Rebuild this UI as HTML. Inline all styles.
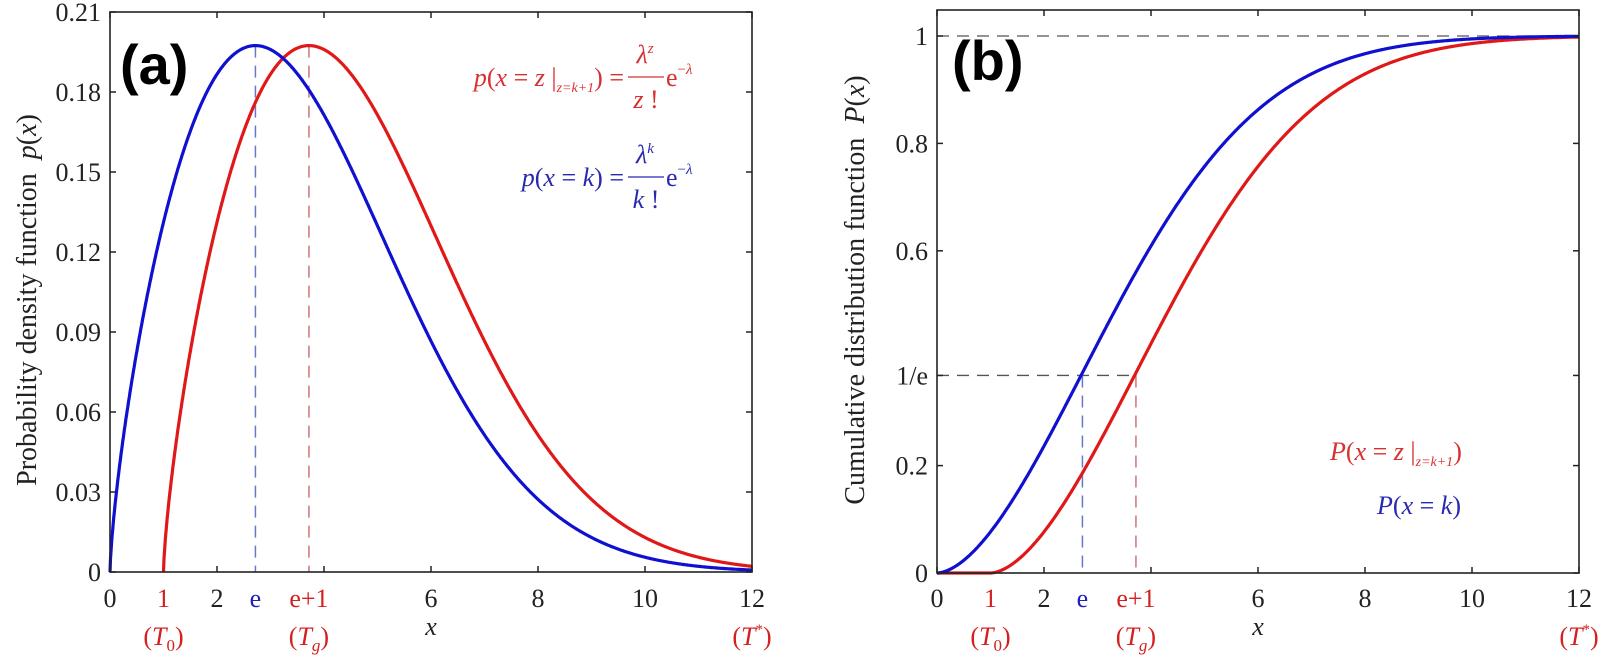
<!DOCTYPE html>
<html><head><meta charset="utf-8"><style>
html,body{margin:0;padding:0;background:#fff;}
svg{display:block;}
</style></head><body>
<svg id="s" width="1600" height="661" viewBox="0 0 1600 661">
</svg>
<script>
var NS="http://www.w3.org/2000/svg",s=document.getElementById('s');
var FF="'Liberation Serif', 'DejaVu Serif', serif";
function el(t,a,h){var e=document.createElementNS(NS,t);for(var k in a)e.setAttribute(k,a[k]);if(t=='text'&&!a['font-family'])e.setAttribute('font-family',FF);if(h!=null)e.innerHTML=h;s.appendChild(e);return e;}
function tx(x,y,str,col,anch,extra){var o={x:x,y:y,'font-size':26,fill:col||'#222','text-anchor':anch||'middle'};for(var k in extra)o[k]=extra[k];return el('text',o,str);}
var E=Math.E,A=0.72;
function f(x){if(x<=0)return 0;var t=x/E;return 0.1974*Math.exp(A*(Math.log(t)-(t*t-1)/2));}
function panel(L,T,B,ymax,cdf){
 var R=L+642,W=642,H=B-T;
 function X(x){return L+x*W/12;}
 function Y(y){return B-y/ymax*(B-T);}
 var N=1200,dx=12/N,cb=0,cr=0,bs=[],rs=[],tot=0;
 for(var i=1;i<=2000;i++){var x=i*0.01;tot+=(f(x)+f(x-0.01))/2*0.01;}
 for(var i=0;i<=N;i++){var x=i*dx;var vb,vr;
  if(cdf){if(i>0){cb+=(f(x)+f(x-dx))/2*dx;cr+=(f(x-1)+f(x-1-dx))/2*dx;}vb=cb/tot;vr=cr/tot;}
  else{vb=f(x);vr=f(x-1);}
  bs.push(X(x).toFixed(1)+','+Y(vb).toFixed(1));if(cdf||x>=1)rs.push(X(x).toFixed(1)+','+Y(vr).toFixed(1));}
 var e=E;
 if(!cdf){
  el('line',{x1:X(e),y1:Y(0.1974),x2:X(e),y2:B,stroke:'#6677cc','stroke-width':1.5,'stroke-dasharray':'12,8'});
  el('line',{x1:X(e+1),y1:Y(0.1974),x2:X(e+1),y2:B,stroke:'#cc7777','stroke-width':1.5,'stroke-dasharray':'12,8'});
 }else{
  var ie=1/e;
  el('line',{x1:L,y1:Y(1),x2:R,y2:Y(1),stroke:'#555','stroke-width':1.3,'stroke-dasharray':'12,8'});
  el('line',{x1:L,y1:Y(ie),x2:X(e+1),y2:Y(ie),stroke:'#555','stroke-width':1.3,'stroke-dasharray':'12,8'});
  el('line',{x1:X(e),y1:Y(ie),x2:X(e),y2:B,stroke:'#6677cc','stroke-width':1.5,'stroke-dasharray':'12,8'});
  el('line',{x1:X(e+1),y1:Y(ie),x2:X(e+1),y2:B,stroke:'#cc7777','stroke-width':1.5,'stroke-dasharray':'12,8'});
 }
 el('polyline',{points:rs.join(' '),fill:'none',stroke:'#e01818','stroke-width':3.2});
 el('polyline',{points:bs.join(' '),fill:'none',stroke:'#1010d0','stroke-width':3.2});
 el('rect',{x:L,y:T,width:W,height:H,fill:'none',stroke:'#222','stroke-width':1.6});
 [0,2,4,6,8,10,12].forEach(function(v){el('line',{x1:X(v),y1:B,x2:X(v),y2:B-6,stroke:'#222','stroke-width':1.5});el('line',{x1:X(v),y1:T,x2:X(v),y2:T+6,stroke:'#222','stroke-width':1.5});});
 var yt=cdf?[[0,'0'],[0.2,'0.2'],[1/e,'1/e'],[0.6,'0.6'],[0.8,'0.8'],[1,'1']]:[[0,'0'],[0.03,'0.03'],[0.06,'0.06'],[0.09,'0.09'],[0.12,'0.12'],[0.15,'0.15'],[0.18,'0.18'],[0.21,'0.21']];
 yt.forEach(function(v){el('line',{x1:L,y1:Y(v[0]),x2:L+6,y2:Y(v[0]),stroke:'#222','stroke-width':1.5});el('line',{x1:R,y1:Y(v[0]),x2:R-6,y2:Y(v[0]),stroke:'#222','stroke-width':1.5});tx(L-9,Y(v[0])+9,v[1],'#222','end');});
 var by=607;
 tx(X(0),by,'0');tx(X(1),by,'1','#d42020');tx(X(2),by,'2');tx(X(e),by,'e','#2020c0');tx(X(e+1),by,'e+1','#d42020');
 tx(X(6),by,'6');tx(X(8),by,'8');tx(X(10),by,'10');tx(X(12),by,'12');
 var ry=645;
 tx(X(1),ry,'(<tspan font-style="italic">T</tspan><tspan font-size="17" dy="6">0</tspan><tspan dy="-6">)</tspan>','#d42020');
 tx(X(e+1),ry,'(<tspan font-style="italic">T</tspan><tspan font-size="17" font-style="italic" dy="6">g</tspan><tspan dy="-6">)</tspan>','#d42020');
 tx(X(12),ry,'(<tspan font-style="italic">T</tspan><tspan font-size="15" dy="-11">*</tspan><tspan dy="11">)</tspan>','#d42020');
 tx(X(6),635,'x','#222','middle',{'font-style':'italic'});
}
panel(110,12,572,0.21,false);
panel(937,10,573,(573-10)/(573-36),true);
var SF="'Liberation Sans', 'DejaVu Sans', sans-serif";
el('text',{x:120,y:84,'font-family':SF,'font-weight':'bold','font-size':56,fill:'#000'},'(a)');
el('text',{x:952,y:80,'font-family':SF,'font-weight':'bold','font-size':56,fill:'#000'},'(b)');
el('text',{x:0,y:0,transform:'translate(36,300) rotate(-90)','text-anchor':'middle','font-size':28,fill:'#222'},'Probability density function&#160;&#160;<tspan font-style="italic">p</tspan>(<tspan font-style="italic">x</tspan>)');
el('text',{x:0,y:0,transform:'translate(864,290) rotate(-90)','text-anchor':'middle','font-size':28,fill:'#222'},'Cumulative distribution function&#160;&#160;<tspan font-style="italic">P</tspan>(<tspan font-style="italic">x</tspan>)');
var R='#d83030',Bc='#2828b0';
el('text',{x:624,y:86,'font-size':26,fill:R,'text-anchor':'end'},'<tspan font-style="italic">p</tspan>(<tspan font-style="italic">x</tspan> = <tspan font-style="italic">z</tspan> |<tspan font-size="14" font-style="italic" dy="6">z=k+1</tspan><tspan dy="-6">) =</tspan>');
el('text',{x:645,y:63,'font-size':26,fill:R,'text-anchor':'middle'},'<tspan font-style="italic">λ</tspan><tspan font-size="15" font-style="italic" dy="-10">z</tspan>');
el('line',{x1:628,y1:77,x2:664,y2:77,stroke:R,'stroke-width':1.3});
el('text',{x:646,y:108,'font-size':26,fill:R,'text-anchor':'middle'},'<tspan font-style="italic">z</tspan> !');
el('text',{x:666,y:86,'font-size':26,fill:R},'e<tspan font-size="15" dy="-12">−<tspan font-style="italic">λ</tspan></tspan>');
el('text',{x:624,y:186,'font-size':26,fill:Bc,'text-anchor':'end'},'<tspan font-style="italic">p</tspan>(<tspan font-style="italic">x</tspan> = <tspan font-style="italic">k</tspan>) =');
el('text',{x:645,y:163,'font-size':26,fill:Bc,'text-anchor':'middle'},'<tspan font-style="italic">λ</tspan><tspan font-size="15" font-style="italic" dy="-10">k</tspan>');
el('line',{x1:628,y1:177,x2:664,y2:177,stroke:Bc,'stroke-width':1.3});
el('text',{x:646,y:208,'font-size':26,fill:Bc,'text-anchor':'middle'},'<tspan font-style="italic">k</tspan> !');
el('text',{x:666,y:186,'font-size':26,fill:Bc},'e<tspan font-size="15" dy="-12">−<tspan font-style="italic">λ</tspan></tspan>');
el('text',{x:1330,y:460,'font-size':26,fill:R},'<tspan font-style="italic">P</tspan>(<tspan font-style="italic">x</tspan> = <tspan font-style="italic">z</tspan> |<tspan font-size="14" font-style="italic" dy="6">z=k+1</tspan><tspan dy="-6">)</tspan>');
el('text',{x:1377,y:514,'font-size':26,fill:Bc},'<tspan font-style="italic">P</tspan>(<tspan font-style="italic">x</tspan> = <tspan font-style="italic">k</tspan>)');
</script>
</body></html>
